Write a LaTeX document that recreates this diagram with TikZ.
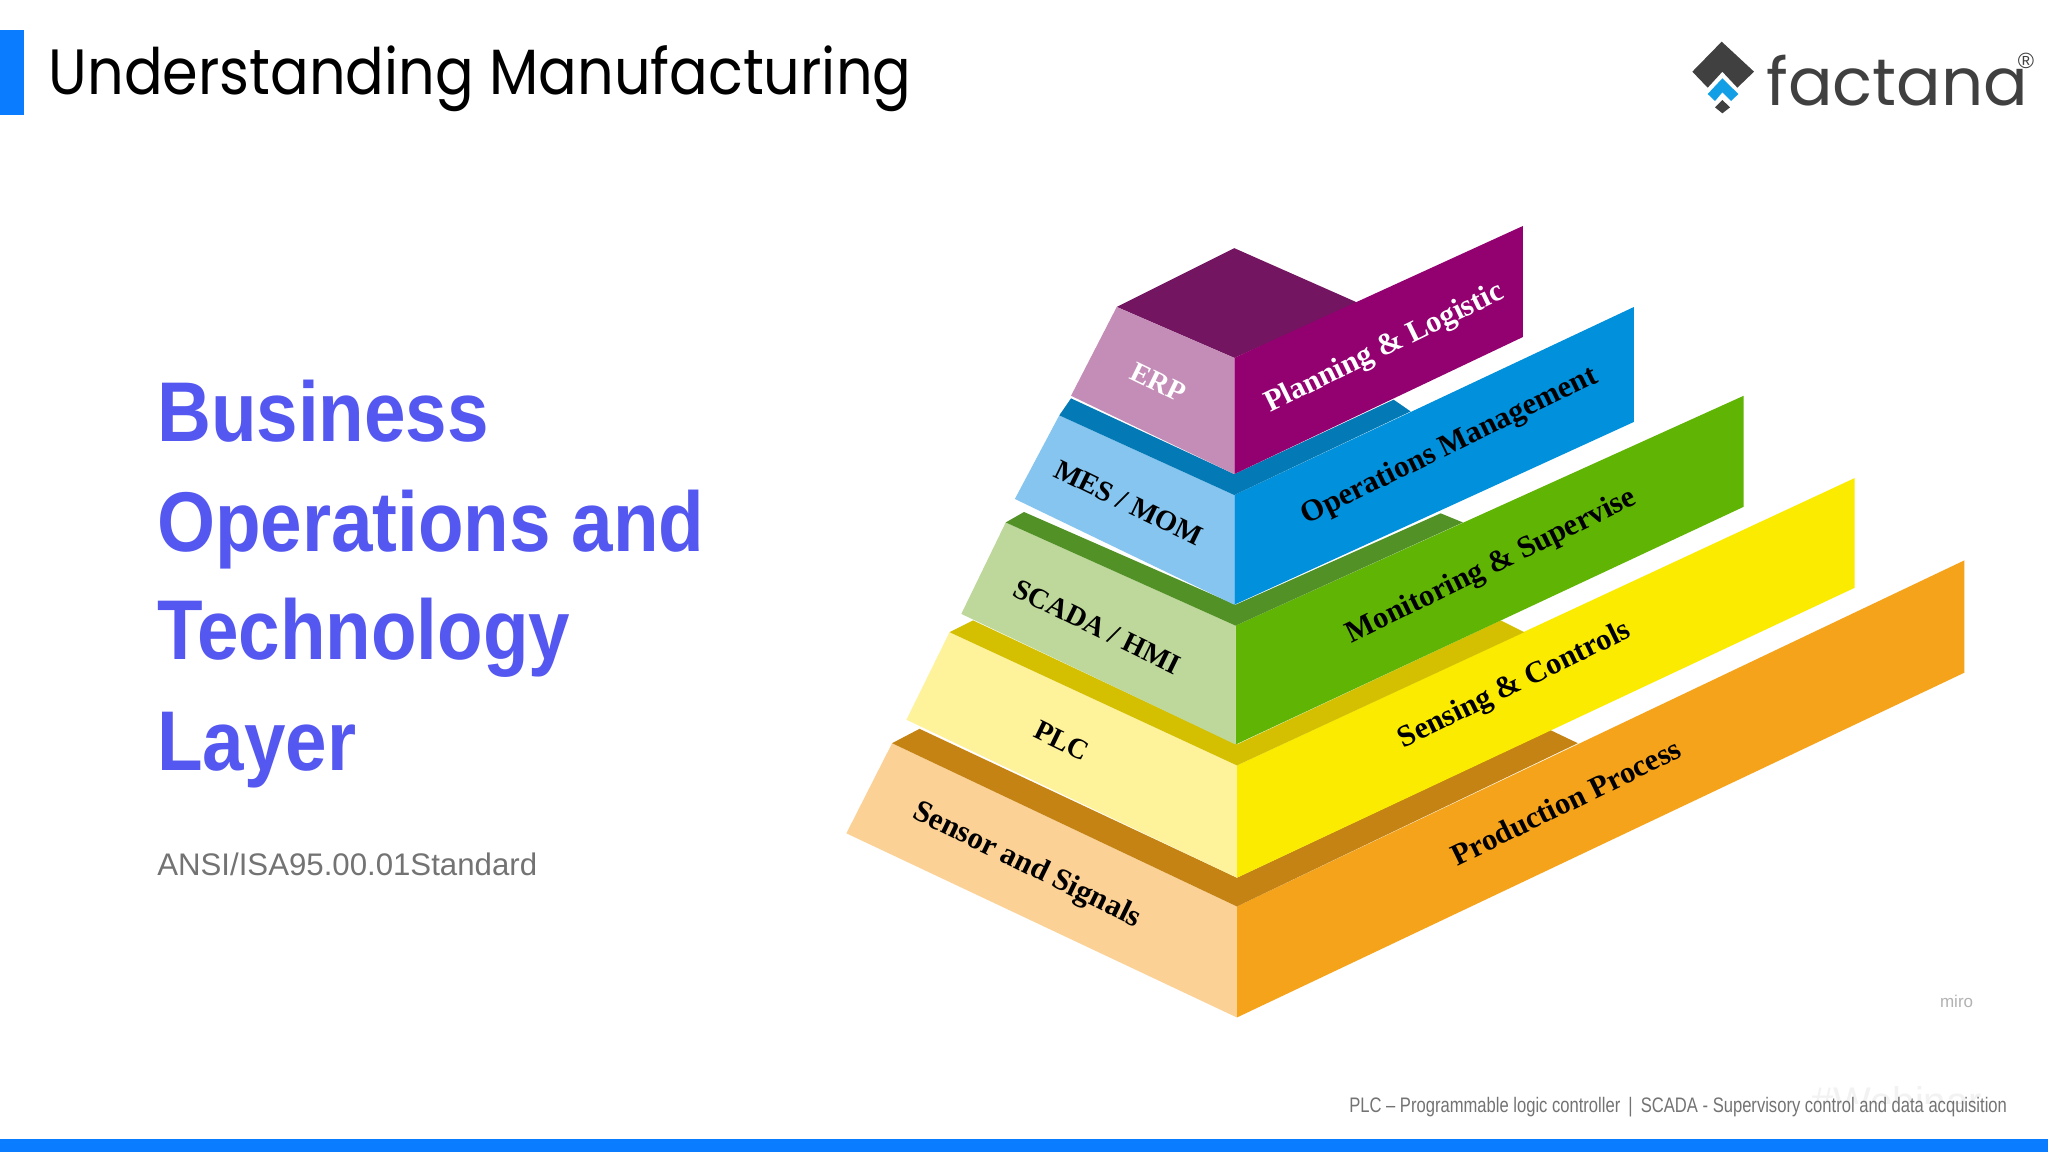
\documentclass[tikz,border=0pt]{standalone}
\usepackage{fontspec}
\setmainfont{Liberation Serif}
\newfontfamily\titlefont[FakeStretch=.895]{Poppins}
\newfontfamily\logofont{Poppins}
\newfontfamily\headfont[FakeStretch=.88]{Liberation Sans}
\newfontfamily\notefont[FakeStretch=.79]{Liberation Sans}
\newfontfamily\subfont{Liberation Sans}
\definecolor{barblue}{HTML}{0A7CFF}
\definecolor{headblue}{HTML}{5558F0}
\definecolor{logogray}{HTML}{404040}
\definecolor{logoblue}{HTML}{129FE6}
\definecolor{prodright}{HTML}{F6A31C}
\definecolor{prodleft}{HTML}{FBD196}
\definecolor{prodtop}{HTML}{C48312}
\definecolor{plcright}{HTML}{FAEB00}
\definecolor{plcleft}{HTML}{FEF29A}
\definecolor{plctop}{HTML}{D4C000}
\definecolor{scadaright}{HTML}{60B404}
\definecolor{scadaleft}{HTML}{BDD89A}
\definecolor{scadatop}{HTML}{529126}
\definecolor{mesright}{HTML}{0090DC}
\definecolor{mesleft}{HTML}{85C5F0}
\definecolor{mestop}{HTML}{0379B5}
\definecolor{erpright}{HTML}{930070}
\definecolor{erpleft}{HTML}{C48DB8}
\definecolor{erptop}{HTML}{731560}
\tikzset{
  leftlabel/.style={font=\fontsize{14.3}{14}\selectfont\bfseries,rotate=-26},
  rightlabel/.style={font=\fontsize{15.3}{15}\selectfont\bfseries,rotate=26},
  headline/.style={anchor=base west,inner sep=0pt,text=headblue,font=\headfont\fontsize{42.4}{42}\selectfont\bfseries}
}
\begin{document}
\begin{tikzpicture}[x=.653061pt,y=-.653061pt]
\useasboundingbox (0,0) rectangle (1568,882);
\fill[white] (0,0) rectangle (1568,882);
\fill[barblue] (0,23) rectangle (18,88);
\fill[barblue] (0,872) rectangle (1568,882);
\node[anchor=west,font=\titlefont\fontsize{32}{32}\selectfont] (title) at (32,60) {Understanding Manufacturing};
\node[headline] (line1) at (120,338) {Business};
\node[headline] (line2) at (120,422) {Operations and};
\node[headline] (line3) at (120,505) {Technology};
\node[headline] (line4) at (120,590) {Layer};
\node[anchor=west,text=black!55,font=\subfont\fontsize{15.6}{16}\selectfont] (standard) at (115,662) {ANSI/ISA95.00.01Standard};
\fill[prodright] (947,694) -- (1504,429) -- (1504,515) -- (947,779) -- cycle;
\fill[prodleft] (683,569) -- (947,694) -- (947,779) -- (648,638) -- cycle;
\fill[prodtop] (704,558) -- (683,569) -- (947,694) -- (1208,569) -- (1187,559) -- (947,672) -- cycle;
\fill[plcright] (947,586) -- (1420,366) -- (1420,450) -- (947,672) -- cycle;
\fill[plcleft] (727,484) -- (947,586) -- (947,672) -- (694,551) -- cycle;
\fill[plctop] (745,475) -- (727,484) -- (947,586) -- (1167,484) -- (1149,475) -- (947,570) -- cycle;
\fill[scadaright] (946,479) -- (1335,303) -- (1335,388) -- (946,570) -- cycle;
\fill[scadaleft] (770,400) -- (946,479) -- (946,570) -- (736,470) -- cycle;
\fill[scadatop] (784,392) -- (770,400) -- (946,479) -- (1120,400) -- (1103,393) -- (946,463) -- cycle;
\fill[mesright] (945,379) -- (1251,235) -- (1251,323) -- (945,463) -- cycle;
\fill[mesleft] (811,318) -- (945,379) -- (945,463) -- (777,382) -- cycle;
\fill[mestop] (820,305) -- (811,318) -- (945,379) -- (1080,315) -- (1067,306) -- (945,363) -- cycle;
\fill[erptop] (945,190) -- (855,235) -- (945,274) -- (1040,232) -- cycle;
\fill[erpright] (945,274) -- (1166,173) -- (1166,258) -- (945,363) -- cycle;
\fill[erpleft] (855,235) -- (945,274) -- (945,363) -- (820,303) -- cycle;
\node[leftlabel,text=white] (erp) at (887,293) {ERP};
\node[rightlabel,text=white] (planning) at (1060,267) {Planning \& Logistic};
\node[leftlabel] (mes) at (864,385) {MES / MOM};
\node[rightlabel] (operations) at (1110,342) {Operations Management};
\node[leftlabel] (scada) at (840,480) {SCADA / HMI};
\node[rightlabel] (monitoring) at (1142,434) {Monitoring \& Supervise};
\node[leftlabel] (plc) at (813,567) {PLC};
\node[rightlabel] (sensing) at (1160,525) {Sensing \& Controls};
\node[leftlabel,font=\fontsize{15.5}{15}\selectfont\bfseries] (sensor) at (786,663) {Sensor and Signals};
\node[rightlabel] (production) at (1199,614) {Production Process};
\node[text=black!30,font=\subfont\fontsize{8.5}{8.5}\selectfont] (miro) at (1498,767) {miro};
\begin{scope}
\clip (1380,825) rectangle (1530,845);
\node[text=black!5,font=\subfont\fontsize{20}{20}\selectfont] (webinar) at (1452,843) {\#Webinar};
\end{scope}
\node[anchor=east,text=black!55,font=\notefont\fontsize{10.5}{10.5}\selectfont] (note) at (1542,848) {PLC – Programmable logic controller \,|\, SCADA - Supervisory control and data acquisition};
\begin{scope}[xshift=830pt,yshift=-10pt,x=.16667pt,y=-.16667pt]
\fill[logogray] (185,65) -- (282,155) -- (232,203) -- (187,155) -- (143,203) -- (97,155) -- cycle;
\fill[logoblue] (187,175) -- (235,222) -- (213,243) -- (187,217) -- (165,243) -- (143,222) -- cycle;
\fill[logogray] (187,240) -- (210,262) -- (187,280) -- (165,262) -- cycle;
\node[anchor=base west,inner sep=0pt,text=logogray,font=\logofont\fontsize{33}{33}\selectfont] (factana) at (318,255) {factana};
\node[text=logogray,font=\subfont\fontsize{11}{11}\selectfont] (registered) at (1098,122) {®};
\end{scope}
\end{tikzpicture}
\end{document}
